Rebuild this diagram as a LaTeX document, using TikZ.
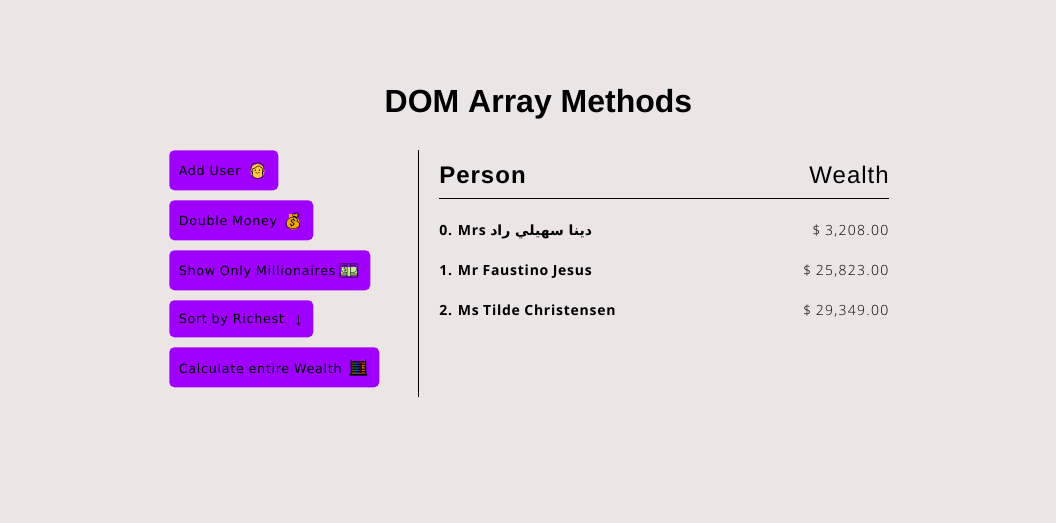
\documentclass[tikz,border=0pt]{standalone}
\usepackage{fontspec}
\TeXXeTstate=1
\setmainfont{Open Sans}
\newfontfamily\arialf{Liberation Sans}
\newfontfamily\arialsp{Liberation Sans}[LetterSpace=4.2]
\newfontfamily\wealthf{Liberation Sans}[LetterSpace=4.2]
\newfontfamily\btnf{DejaVu Sans}[LetterSpace=5.5]
\newfontfamily\rowf{Open Sans}[LetterSpace=5.4]
\newfontfamily\moneyf{Open Sans Light}[LetterSpace=9]
\newfontfamily\arabicf[Script=Arabic]{DejaVu Sans}
\newfontfamily\emojif{Noto Emoji}
\definecolor{bgc}{HTML}{EBE5E5}
\definecolor{btnc}{HTML}{A000FF}
\definecolor{amberc}{HTML}{FFC83D}
\definecolor{bagc}{HTML}{F2A900}
\definecolor{notec}{HTML}{C9E59A}
\definecolor{abacusc}{HTML}{8A4B2A}
\tikzset{
  btn/.style={fill=btnc,draw=none,rounded corners=3.75pt,anchor=north west,inner sep=0pt},
  btnlabel/.style={anchor=base west,inner sep=0pt,font=\btnf\fontsize{9.55pt}{12pt}\selectfont,text=black},
  emojilabel/.style={anchor=center,inner sep=0pt,font=\emojif\fontsize{12pt}{14pt}\selectfont,text=black},
  rowlabel/.style={anchor=base west,inner sep=0pt,font=\rowf\bfseries\fontsize{10.5pt}{12pt}\selectfont,text=black},
  money/.style={anchor=base east,inner sep=0pt,font=\moneyf\fontsize{10.5pt}{12pt}\selectfont,text=black},
}
\begin{document}
\begin{tikzpicture}[x=0.75pt,y=-0.75pt]
\useasboundingbox[fill=bgc] (0,0) rectangle (1056,523);
\node[anchor=base,inner sep=0pt,font=\arialf\bfseries\fontsize{24pt}{28pt}\selectfont] (title) at (538.5,113) {DOM Array Methods};
% buttons
\node[btn,minimum width=109*0.75pt,minimum height=40*0.75pt] (b1) at (169,150) {};
\node[btn,minimum width=144*0.75pt,minimum height=40*0.75pt] (b2) at (169,200) {};
\node[btn,minimum width=201*0.75pt,minimum height=40*0.75pt] (b3) at (169,250) {};
\node[btn,minimum width=144*0.75pt,minimum height=37*0.75pt] (b4) at (169,300) {};
\node[btn,minimum width=210*0.75pt,minimum height=40*0.75pt] (b5) at (169,347) {};
\node[btnlabel] (t1) at (178.5,176) {Add User};
\node[btnlabel] (t2) at (178.5,226) {Double Money};
\node[btnlabel] (t3) at (178.5,276) {Show Only Millionaires};
\node[btnlabel] (t4) at (178.5,324) {Sort by Richest};
\node[btnlabel] (t5) at (178.5,373.5) {Calculate entire Wealth};
% emoji backings
\fill[amberc] (257.5,171) circle (7);
\fill[bagc] (293,223) circle (6.5);
\fill[bagc] (289,214) rectangle (297,219);
\fill[notec] (341,267) rectangle (357,276);
\fill[abacusc] (351,361) rectangle (366,375);
\fill[green!60!black] (353,363) rectangle (356,373);
\fill[blue!70!cyan] (356,363) rectangle (359,373);
\fill[red!70!black] (359,363) rectangle (362,373);
\fill[orange] (362,363) rectangle (364,373);
\node[emojilabel] (e1) at (257.5,171) {\symbol{"1F471}};
\node[emojilabel] (e2) at (293,221) {\symbol{"1F4B0}};
\node[emojilabel] (e3) at (349,271.5) {\symbol{"1F4B5}};
\node[emojilabel] (e5) at (358.5,368) {\symbol{"1F9EE}};
\node[anchor=center,inner sep=0pt,font=\arialf\fontsize{13pt}{14pt}\selectfont] (e4) at (298.5,321) {↓};
% divider
\coordinate (dtop) at (418.5,150);
\coordinate (dbot) at (418.5,397);
\draw[line width=0.75pt,black] (dtop) -- (dbot);
% header
\node[anchor=base west,inner sep=0pt,font=\arialsp\bfseries\fontsize{18pt}{22pt}\selectfont] (person) at (439,184) {Person};
\node[anchor=base east,inner sep=0pt,font=\wealthf\fontsize{18pt}{22pt}\selectfont] (wealth) at (889,184) {Wealth};
\coordinate (rl) at (439,198.5);
\coordinate (rr) at (889,198.5);
\draw[line width=0.75pt,black] (rl) -- (rr);
% rows
\node[rowlabel] (r0) at (439,235.5) {0. Mrs {\arabicf\fontsize{10.5pt}{12pt}\selectfont\beginR دينا سهيلي راد\endR}};
\node[rowlabel] (r1) at (439,275.5) {1. Mr Faustino Jesus};
\node[rowlabel] (r2) at (439,315.5) {2. Ms Tilde Christensen};
\node[money] (m0) at (888.5,235.5) {\$ 3,208.00};
\node[money] (m1) at (888.5,275.5) {\$ 25,823.00};
\node[money] (m2) at (888.5,315.5) {\$ 29,349.00};
\end{tikzpicture}
\end{document}
